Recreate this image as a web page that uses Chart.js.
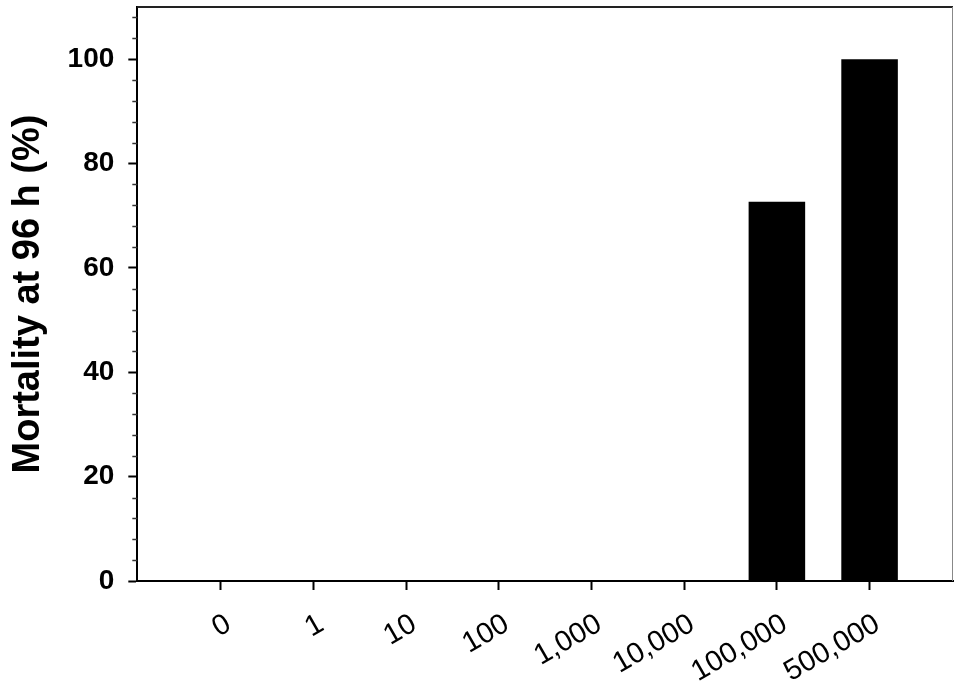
<!DOCTYPE html>
<html>
<head>
<meta charset="utf-8">
<title>Mortality at 96 h</title>
<script src="https://cdn.jsdelivr.net/npm/chart.js@4.4.1/dist/chart.umd.min.js"></script>
<style>
  html, body { margin: 0; padding: 0; background: #fff; }
  #wrap { width: 954px; height: 700px; position: relative; }
</style>
</head>
<body>
<div id="wrap"><canvas id="chart"></canvas></div>
<script>
/* ── Data ───────────────────────────────────────────────── */

var doses     = ['0', '1', '10', '100', '1,000', '10,000', '100,000', '500,000'];
var mortality = [0, 0, 0, 0, 0, 0, 72.7, 100];
var yMax      = 110;
var yStep     = 20;
var yMinor    = 4;

var fontFamily = '"Liberation Sans", Arial, Helvetica, sans-serif';

/* ── Frame + minor ticks ────────────────────────────────── */

var framePlugin = {
  id: 'frame',
  afterDraw: function (chart) {
    var ctx = chart.ctx;
    var a = chart.chartArea;
    var y = chart.scales.y;
    ctx.save();

    /* minor ticks on the y axis */
    ctx.strokeStyle = '#333';
    ctx.lineWidth = 1.5;
    for (var v = yMinor; v < yMax; v += yMinor) {
      if (v % yStep === 0) continue;
      var py = Math.round(y.getPixelForValue(v)) + 0.5;
      ctx.beginPath();
      ctx.moveTo(a.left - 5, py);
      ctx.lineTo(a.left, py);
      ctx.stroke();
    }

    /* top border */
    ctx.strokeStyle = '#222';
    ctx.lineWidth = 2;
    ctx.beginPath();
    ctx.moveTo(a.left, a.top);
    ctx.lineTo(a.right, a.top);
    ctx.stroke();

    /* right border */
    ctx.strokeStyle = '#888';
    ctx.lineWidth = 1;
    ctx.beginPath();
    ctx.moveTo(a.right - 0.5, a.top);
    ctx.lineTo(a.right - 0.5, a.bottom);
    ctx.stroke();

    ctx.restore();
  }
};

/* ── Chart ──────────────────────────────────────────────── */

new Chart(document.getElementById('chart'), {
  type: 'bar',
  data: {
    datasets: [{
      label: 'Mortality',
      data: mortality.map(function (v, i) { return { x: i, y: v }; }),
      backgroundColor: '#000',
      borderWidth: 0,
      barPercentage: 0.61,
      categoryPercentage: 1
    }]
  },
  options: {
    responsive: true,
    maintainAspectRatio: false,
    animation: false,
    layout: { padding: { left: 6, top: 7, right: 1, bottom: 0 } },
    plugins: {
      legend: { display: false },
      tooltip: { enabled: false }
    },
    scales: {
      x: {
        type: 'linear',
        offset: false,
        min: -0.9,
        max: 7.9,
        afterBuildTicks: function (scale) {
          scale.ticks = doses.map(function (d, i) { return { value: i }; });
        },
        afterFit: function (scale) {
          scale.height = 119;
        },
        grid: {
          offset: false,
          drawOnChartArea: false,
          tickLength: 9,
          tickWidth: 2,
          tickColor: '#000'
        },
        border: { color: '#000', width: 2 },
        ticks: {
          color: '#000',
          font: { family: fontFamily, size: 29 },
          minRotation: 30,
          maxRotation: 30,
          padding: 17,
          labelOffset: 8,
          callback: function (v) { return doses[v]; }
        }
      },
      y: {
        min: 0,
        max: yMax,
        afterFit: function (scale) {
          scale.paddingTop = 0;
          scale.paddingBottom = 0;
        },
        grid: {
          drawOnChartArea: false,
          tickLength: 9,
          tickWidth: 2,
          tickColor: '#000'
        },
        border: { color: '#000', width: 2 },
        ticks: {
          stepSize: yStep,
          includeBounds: false,
          color: '#000',
          padding: 14,
          font: { family: fontFamily, size: 28, weight: 'bold' }
        },
        title: {
          display: true,
          text: 'Mortality at 96 h (%)',
          color: '#000',
          font: { family: fontFamily, size: 38, weight: 'bold' },
          padding: { top: 0, bottom: 2 }
        }
      }
    }
  },
  plugins: [framePlugin]
});
</script>
</body>
</html>
